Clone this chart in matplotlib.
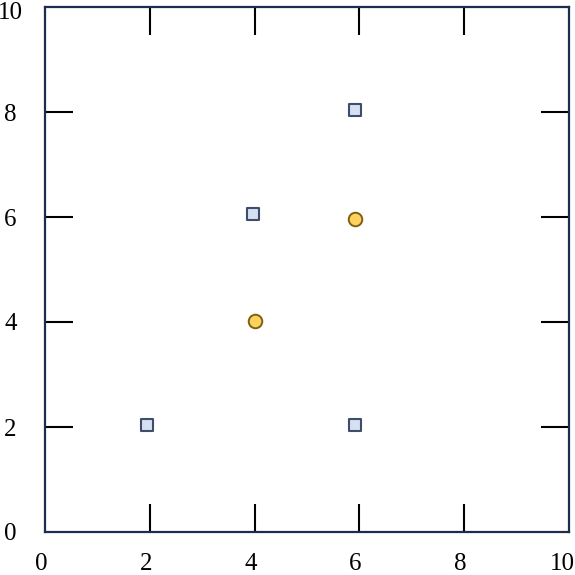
import matplotlib.pyplot as plt
import matplotlib.transforms as mtransforms

plt.rcParams['font.family'] = ['Liberation Serif', 'DejaVu Serif']

# square points
sq_x = [1.95, 3.97, 5.92, 5.92]
sq_y = [2.04, 6.06, 8.04, 2.04]
# circle points
ci_x = [4.01, 5.92]
ci_y = [4.01, 5.97]

ticks = [0, 2, 4, 6, 8, 10]

fig = plt.figure(figsize=(5.75, 5.75), dpi=100)
ax = fig.add_axes([45 / 575, 43 / 575, 524 / 575, 525 / 575])

ax.scatter(sq_x, sq_y, marker='s', s=72, facecolor='#d5e0f3',
           edgecolor='#3e4e69', linewidth=1.5, zorder=3)
ax.scatter(ci_x, ci_y, marker='o', s=95, facecolor='#ffd25e',
           edgecolor='#7f6010', linewidth=1.4, zorder=3)

ax.set_xlim(0, 10)
ax.set_ylim(0, 10)
ax.set_xticks(ticks)
ax.set_yticks(ticks)
ax.set_xticklabels([str(t) for t in ticks])
ax.set_yticklabels([str(t) for t in ticks], ha='center')

ax.tick_params(axis='both', direction='in', length=20, width=1.5,
               color='black', labelsize=18, top=True, right=True)
ax.tick_params(axis='x', pad=15)
ax.tick_params(axis='y', pad=25)

# x labels sit a little left of the ticks, the corner ones pulled inside
xlabs = ax.get_xticklabels()
for i, lab in enumerate(xlabs):
    dx = -7 if i == len(xlabs) - 1 else -4
    shift = mtransforms.ScaledTranslation(dx / 100, 0, fig.dpi_scale_trans)
    lab.set_transform(lab.get_transform() + shift)
ylabs = ax.get_yticklabels()
down = mtransforms.ScaledTranslation(0, -3 / 100, fig.dpi_scale_trans)
ylabs[-1].set_transform(ylabs[-1].get_transform() + down)

# no tick marks at the corners
for axis in (ax.xaxis, ax.yaxis):
    for t in axis.get_major_ticks():
        if t.get_loc() in (0, 10):
            t.tick1line.set_visible(False)
            t.tick2line.set_visible(False)

for sp in ax.spines.values():
    sp.set_color('#1c2d4f')
    sp.set_linewidth(1.6)

fig.savefig('out.png', dpi=100)
